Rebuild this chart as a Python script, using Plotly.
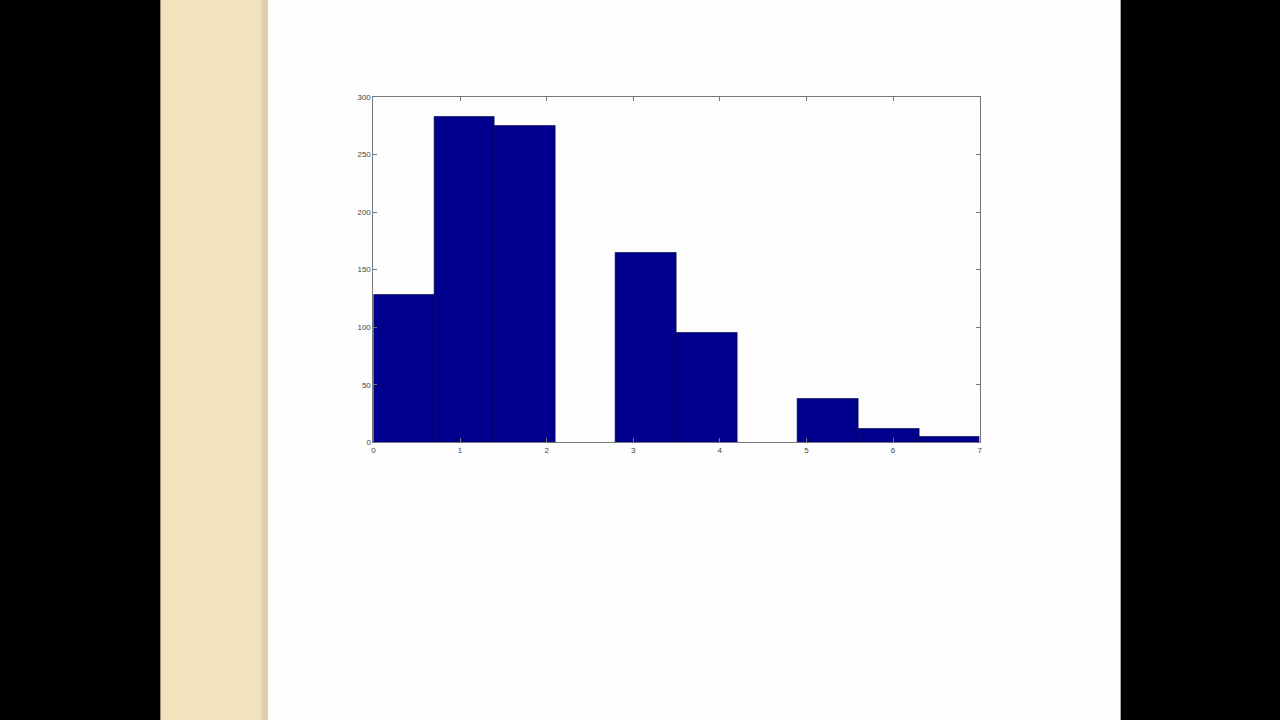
import plotly.graph_objects as go

# histogram (10 bins over 0..7)
bin_starts = [0.0, 0.7, 1.4, 2.1, 2.8, 3.5, 4.2, 4.9, 5.6, 6.3]
bin_width = 0.7
counts = [128, 283, 275, 0, 165, 95, 0, 38, 12, 5]

x_ticks = [0, 1, 2, 3, 4, 5, 6, 7]
y_ticks = [0, 50, 100, 150, 200, 250, 300]

W, H = 1280, 720


# the photographed page comes out a touch shrunk, so map screen px -> paper fraction
def px_x(p):
    return (p - 1.67) / 0.9958 / W


def px_y(p):
    return 1 - (p - 4.4) / 0.9855 / H


fig = go.Figure()
fig.add_trace(go.Bar(
    x=bin_starts, y=counts, width=bin_width, offset=0,
    marker=dict(color="rgb(0,0,140)", line=dict(color="rgb(0,0,60)", width=0.6)),
    hoverinfo="x+y",
))

axis_style = dict(
    showline=True, linecolor="#777", linewidth=1, mirror="ticks",
    ticks="inside", ticklen=4, tickcolor="#777",
    showgrid=False, zeroline=False,
    tickfont=dict(family="Liberation Sans, Arial", size=8, color="#444"),
)

fig.update_xaxes(range=[0, 7], tickvals=x_ticks, domain=[px_x(373), px_x(979)], **axis_style)
fig.update_yaxes(range=[0, 300], tickvals=y_ticks, domain=[px_y(442), px_y(97)], **axis_style)

# slide background: black frame, beige strip, white page
fig.update_layout(
    width=W, height=H,
    margin=dict(l=0, r=0, t=0, b=0),
    paper_bgcolor="black",
    plot_bgcolor="white",
    showlegend=False,
    bargap=0,
    shapes=[
        dict(type="rect", xref="paper", yref="paper", x0=px_x(160), x1=px_x(267), y0=-0.05, y1=1.05,
             fillcolor="#F1E3BE", line=dict(width=0), layer="below"),
        dict(type="rect", xref="paper", yref="paper", x0=px_x(261), x1=px_x(267), y0=-0.05, y1=1.05,
             fillcolor="#DED0A8", line=dict(width=0), layer="below"),
        dict(type="rect", xref="paper", yref="paper", x0=px_x(267), x1=px_x(1120), y0=-0.05, y1=1.05,
             fillcolor="#FEFEFE", line=dict(width=0), layer="below"),
    ],
)

# drop the default page margin so the figure fills the window exactly
fig.write_html(
    "out.html",
    config={"displayModeBar": False},
    post_script="document.body.style.margin='0';document.body.style.overflow='hidden';",
)
